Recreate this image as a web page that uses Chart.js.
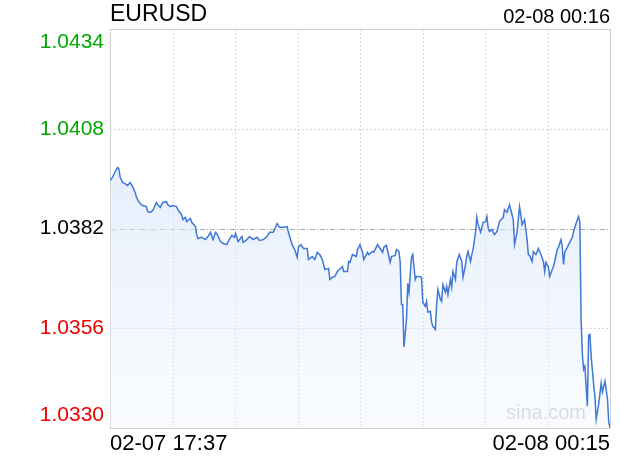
<!DOCTYPE html>
<html>
<head>
<meta charset="utf-8">
<title>EURUSD</title>
<script src="https://cdn.jsdelivr.net/npm/chart.js@4.4.1/dist/chart.umd.min.js"></script>
<style>
  html, body { margin: 0; padding: 0; background: #fff; }
  #wrap { position: relative; width: 620px; height: 460px; }
</style>
</head>
<body>
<div id="wrap"><canvas id="fxChart" width="620" height="460"></canvas></div>
<script>
// symbol + header texts
var symbolName = "EURUSD";
var updateTime = "02-08 00:16";
var xLabels = ["02-07 17:37", "02-08 00:15"];

// y ticks (price), previous close is the middle one
var yTicks = [1.0434, 1.0408, 1.0382, 1.0356, 1.0330];
var prevClose = 1.0382;

// vertical grid, minutes after 17:37 (8 columns over 398 min)
var xGridMinutes = [49.75, 99.5, 149.25, 199, 248.75, 298.5, 348.25];
var sessionMinutes = 398;

// minutes after 17:37
var minutes = [
  0, 2, 4, 6, 7, 8, 10, 12, 14, 16, 18, 20, 21, 22, 24, 26, 29, 30, 32, 34,
  37, 38, 40, 42, 45, 46, 48, 50, 53, 54, 57, 58, 60, 61, 64, 65, 68, 69, 70, 73,
  76, 78, 80, 82, 84, 85, 88, 90, 93, 94, 97, 99, 100, 102, 105, 106, 109, 111, 114, 117,
  119, 122, 125, 127, 130, 133, 135, 138, 141, 142, 145, 147, 149, 150, 152, 154, 157, 158, 161, 163,
  165, 167, 169, 171, 174, 175, 177, 179, 181, 185, 186, 189, 190, 191, 193, 196, 197, 199, 201, 202,
  205, 206, 209, 210, 213, 214, 217, 218, 220, 223, 224, 227, 228, 230, 231, 232, 233, 234, 236, 237,
  238, 240, 241, 243, 244, 246, 248, 249, 251, 252, 253, 255, 256, 257, 259, 260, 261, 263, 264, 265,
  267, 268, 269, 271, 272, 273, 275, 276, 278, 280, 281, 283, 284, 285, 287, 288, 289, 291, 292, 293,
  295, 297, 299, 300, 301, 302, 304, 306, 308, 310, 313, 314, 316, 318, 319, 321, 322, 324, 326, 327,
  328, 330, 332, 333, 334, 336, 337, 339, 341, 343, 345, 346, 347, 349, 350, 352, 353, 354, 356, 357,
  359, 360, 361, 362, 364, 365, 368, 369, 370, 372, 373, 374, 375, 376, 377, 378, 380, 381, 382, 383,
  385, 386, 387, 389, 391, 392, 394, 396, 397, 398
];

var prices = [
  1.03945, 1.03953, 1.03968, 1.03979, 1.03976, 1.03955, 1.03940, 1.03937, 1.03932, 1.03940,
  1.03929, 1.03914, 1.03903, 1.03895, 1.03885, 1.03880, 1.03877, 1.03864, 1.03862, 1.03867,
  1.03888, 1.03882, 1.03875, 1.03888, 1.03890, 1.03882, 1.03877, 1.03880, 1.03877, 1.03869,
  1.03856, 1.03843, 1.03849, 1.03838, 1.03846, 1.03836, 1.03825, 1.03804, 1.03794, 1.03797,
  1.03791, 1.03799, 1.03810, 1.03791, 1.03810, 1.03807, 1.03786, 1.03781, 1.03778, 1.03786,
  1.03802, 1.03797, 1.03807, 1.03786, 1.03799, 1.03784, 1.03791, 1.03799, 1.03791, 1.03797,
  1.03789, 1.03791, 1.03799, 1.03810, 1.03810, 1.03833, 1.03823, 1.03823, 1.03825, 1.03810,
  1.03778, 1.03765, 1.03745, 1.03773, 1.03778, 1.03768, 1.03768, 1.03739, 1.03747, 1.03739,
  1.03758, 1.03752, 1.03739, 1.03713, 1.03716, 1.03687, 1.03693, 1.03695, 1.03708, 1.03721,
  1.03708, 1.03708, 1.03734, 1.03732, 1.03752, 1.03747, 1.03765, 1.03778, 1.03758, 1.03739,
  1.03758, 1.03752, 1.03760, 1.03758, 1.03778, 1.03773, 1.03758, 1.03771, 1.03776, 1.03732,
  1.03747, 1.03750, 1.03765, 1.03760, 1.03732, 1.03622, 1.03622, 1.03511, 1.03583, 1.03677,
  1.03654, 1.03745, 1.03752, 1.03687, 1.03695, 1.03695, 1.03693, 1.03628, 1.03617, 1.03630,
  1.03602, 1.03604, 1.03576, 1.03565, 1.03557, 1.03622, 1.03661, 1.03635, 1.03630, 1.03674,
  1.03654, 1.03669, 1.03648, 1.03687, 1.03667, 1.03708, 1.03687, 1.03732, 1.03752, 1.03734,
  1.03693, 1.03726, 1.03747, 1.03760, 1.03734, 1.03752, 1.03765, 1.03812, 1.03849, 1.03830,
  1.03810, 1.03836, 1.03838, 1.03851, 1.03823, 1.03812, 1.03817, 1.03804, 1.03812, 1.03838,
  1.03849, 1.03869, 1.03862, 1.03882, 1.03869, 1.03843, 1.03778, 1.03810, 1.03877, 1.03856,
  1.03830, 1.03843, 1.03791, 1.03752, 1.03750, 1.03734, 1.03760, 1.03752, 1.03768, 1.03752,
  1.03734, 1.03708, 1.03732, 1.03719, 1.03695, 1.03713, 1.03721, 1.03734, 1.03765, 1.03771,
  1.03791, 1.03771, 1.03726, 1.03758, 1.03771, 1.03778, 1.03797, 1.03812, 1.03823, 1.03843,
  1.03851, 1.03836, 1.03583, 1.03492, 1.03453, 1.03461, 1.03357, 1.03542, 1.03544, 1.03487,
  1.03414, 1.03381, 1.03323, 1.03362, 1.03417, 1.03394, 1.03422, 1.03375, 1.03316, 1.03300
];

var FONT = '"Liberation Sans", Arial, Helvetica, sans-serif';

var points = minutes.map(function (m, i) {
  return { x: m, y: prices[i] };
});

// grid, border, prev-close line and watermark, under the line
var gridPlugin = {
  id: "sinaGrid",
  beforeDatasetsDraw: function (chart) {
    var ctx = chart.ctx;
    var a = chart.chartArea;
    var xs = chart.scales.x;
    var ys = chart.scales.y;
    ctx.save();
    ctx.lineWidth = 1;

    // watermark
    ctx.fillStyle = "#cfcfcf";
    ctx.font = "20px " + FONT;
    ctx.textAlign = "right";
    ctx.textBaseline = "middle";
    ctx.fillText("sina.com", a.right - 24, a.bottom - 15);

    ctx.strokeStyle = "#d6d6d6";
    ctx.setLineDash([2, 2]);
    xGridMinutes.forEach(function (m) {
      var px = Math.round(xs.getPixelForValue(m)) + 0.5;
      ctx.beginPath();
      ctx.moveTo(px, a.top);
      ctx.lineTo(px, a.bottom);
      ctx.stroke();
    });
    yTicks.forEach(function (v) {
      if (v === prevClose || v === yTicks[0] || v === yTicks[yTicks.length - 1]) return;
      var py = Math.round(ys.getPixelForValue(v)) + 0.5;
      ctx.beginPath();
      ctx.moveTo(a.left, py);
      ctx.lineTo(a.right, py);
      ctx.stroke();
    });

    // previous close, dash-dot
    ctx.strokeStyle = "#a8a8a8";
    ctx.setLineDash([5, 2, 1, 2]);
    var pc = Math.round(ys.getPixelForValue(prevClose)) + 0.5;
    ctx.beginPath();
    ctx.moveTo(a.left, pc);
    ctx.lineTo(a.right, pc);
    ctx.stroke();

    // frame
    ctx.setLineDash([]);
    ctx.strokeStyle = "#d0d0d0";
    ctx.strokeRect(a.left + 0.5, a.top + 0.5, a.right - a.left, a.bottom - a.top);
    ctx.restore();
  },
};

// tick labels and header, drawn from the scales
var labelPlugin = {
  id: "sinaLabels",
  afterDraw: function (chart) {
    var ctx = chart.ctx;
    var a = chart.chartArea;
    var ys = chart.scales.y;
    ctx.save();

    // y labels: green above prev close, red below
    ctx.font = "21px " + FONT;
    ctx.textAlign = "right";
    yTicks.forEach(function (v, i) {
      var py = ys.getPixelForValue(v);
      ctx.fillStyle = v > prevClose ? "#00a800" : v < prevClose ? "#f00000" : "#000";
      if (i === 0) {
        ctx.textBaseline = "top";
        py += 3;
      } else if (i === yTicks.length - 1) {
        ctx.textBaseline = "bottom";
        py -= 2;
      } else {
        ctx.textBaseline = "middle";
      }
      ctx.fillText(v.toFixed(4), a.left - 6, py);
    });

    // x labels, first and last time
    ctx.fillStyle = "#000";
    ctx.font = "22px " + FONT;
    ctx.textBaseline = "middle";
    ctx.textAlign = "left";
    ctx.fillText(xLabels[0], a.left, a.bottom + 16);
    ctx.textAlign = "right";
    ctx.fillText(xLabels[1], a.right, a.bottom + 16);

    // header
    ctx.font = "23px " + FONT;
    ctx.textAlign = "left";
    ctx.fillText(symbolName, a.left, 15);
    ctx.font = "20px " + FONT;
    ctx.textAlign = "right";
    ctx.fillText(updateTime, a.right, 17);
    ctx.restore();
  },
};

var ctx = document.getElementById("fxChart").getContext("2d");

new Chart(ctx, {
  type: "line",
  data: {
    datasets: [
      {
        label: symbolName,
        data: points,
        borderColor: "#4078d6",
        borderWidth: 1.5,
        pointRadius: 0,
        tension: 0,
        fill: "start",
        backgroundColor: function (c) {
          var area = c.chart.chartArea;
          if (!area) return "rgba(220,232,250,0.6)";
          var g = c.chart.ctx.createLinearGradient(0, area.top, 0, area.bottom);
          g.addColorStop(0, "rgba(204,221,248,0.8)");
          g.addColorStop(1, "rgba(238,244,253,0.35)");
          return g;
        },
      },
    ],
  },
  options: {
    responsive: false,
    animation: false,
    events: [],
    layout: { padding: { left: 110, right: 10, top: 29, bottom: 32 } },
    plugins: {
      legend: { display: false },
      tooltip: { enabled: false },
      title: { display: false },
    },
    scales: {
      x: { type: "linear", min: 0, max: sessionMinutes, display: false },
      y: { min: yTicks[yTicks.length - 1], max: yTicks[0], display: false },
    },
  },
  plugins: [gridPlugin, labelPlugin],
});
</script>
</body>
</html>
